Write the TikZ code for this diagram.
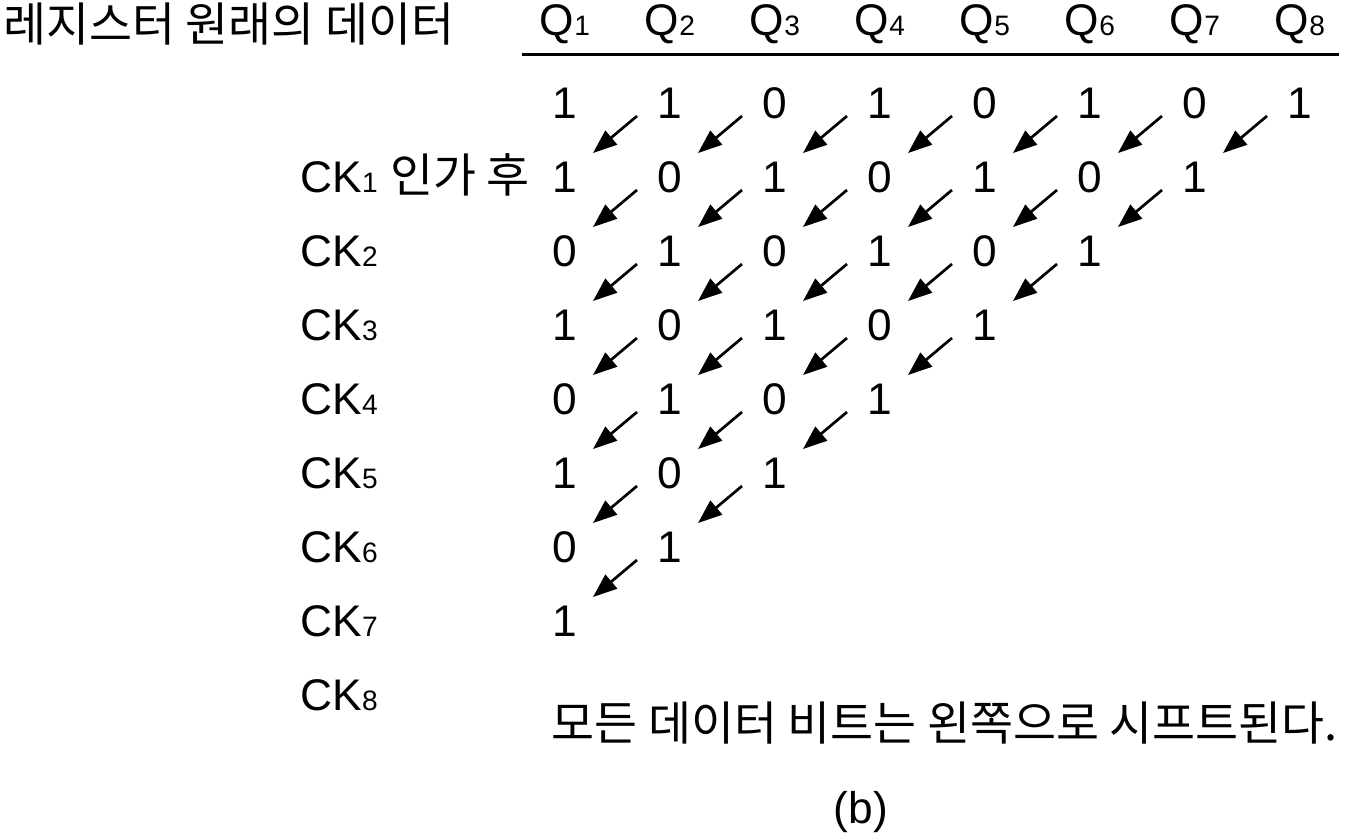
\documentclass[tikz,border=0pt]{standalone}
\usepackage{fontspec}
\setmainfont{Liberation Sans}
\newfontfamily\kr{Noto Sans CJK KR}
\usetikzlibrary{positioning,arrows.meta}
\newcommand{\idx}[1]{{\fontsize{8pt}{9pt}\selectfont #1}}

\begin{document}
\begin{tikzpicture}[x=0.1mm,y=-0.1mm,node distance=7.4mm and 10.5mm,on grid,
    font=\fontsize{12.6pt}{15pt}\selectfont]

    \tikzset{bit/.style={inner sep=0pt},
      txt/.style={inner sep=0pt},
      krtxt/.style={inner sep=0pt,font=\fontsize{13.3pt}{16pt}\selectfont\kr},
      shiftarrow/.style={line width=0.27mm,-{Triangle[length=2.4mm,width=1.8mm]},
        to path={([shift={(-33,13)}]\tikztostart.center) -- ([shift={(28,-24)}]\tikztotarget.center)}}}
    \useasboundingbox (0,0) rectangle (1352,833);

    % original register contents
    \node[bit] (r0c1) at (565,103) {1};
    \node[bit] (r0c2) [right = of r0c1] {1};
    \node[bit] (r0c3) [right = of r0c2] {0};
    \node[bit] (r0c4) [right = of r0c3] {1};
    \node[bit] (r0c5) [right = of r0c4] {0};
    \node[bit] (r0c6) [right = of r0c5] {1};
    \node[bit] (r0c7) [right = of r0c6] {0};
    \node[bit] (r0c8) [right = of r0c7] {1};
    % after CK1
    \node[bit] (r1c1) [below = of r0c1] {1};
    \node[bit] (r1c2) [below = of r0c2] {0};
    \node[bit] (r1c3) [below = of r0c3] {1};
    \node[bit] (r1c4) [below = of r0c4] {0};
    \node[bit] (r1c5) [below = of r0c5] {1};
    \node[bit] (r1c6) [below = of r0c6] {0};
    \node[bit] (r1c7) [below = of r0c7] {1};
    % CK2
    \node[bit] (r2c1) [below = of r1c1] {0};
    \node[bit] (r2c2) [below = of r1c2] {1};
    \node[bit] (r2c3) [below = of r1c3] {0};
    \node[bit] (r2c4) [below = of r1c4] {1};
    \node[bit] (r2c5) [below = of r1c5] {0};
    \node[bit] (r2c6) [below = of r1c6] {1};
    % CK3
    \node[bit] (r3c1) [below = of r2c1] {1};
    \node[bit] (r3c2) [below = of r2c2] {0};
    \node[bit] (r3c3) [below = of r2c3] {1};
    \node[bit] (r3c4) [below = of r2c4] {0};
    \node[bit] (r3c5) [below = of r2c5] {1};
    % CK4
    \node[bit] (r4c1) [below = of r3c1] {0};
    \node[bit] (r4c2) [below = of r3c2] {1};
    \node[bit] (r4c3) [below = of r3c3] {0};
    \node[bit] (r4c4) [below = of r3c4] {1};
    % CK5
    \node[bit] (r5c1) [below = of r4c1] {1};
    \node[bit] (r5c2) [below = of r4c2] {0};
    \node[bit] (r5c3) [below = of r4c3] {1};
    % CK6
    \node[bit] (r6c1) [below = of r5c1] {0};
    \node[bit] (r6c2) [below = of r5c2] {1};
    % CK7
    \node[bit] (r7c1) [below = of r6c1] {1};

    % column heads
    \node[txt] (q1) [above = 7.9mm of r0c1] {Q\idx{1}};
    \node[txt] (q2) [right = of q1] {Q\idx{2}};
    \node[txt] (q3) [right = of q2] {Q\idx{3}};
    \node[txt] (q4) [right = of q3] {Q\idx{4}};
    \node[txt] (q5) [right = of q4] {Q\idx{5}};
    \node[txt] (q6) [right = of q5] {Q\idx{6}};
    \node[txt] (q7) [right = of q6] {Q\idx{7}};
    \node[txt] (q8) [right = of q7] {Q\idx{8}};
    \node[krtxt,anchor=base east] (orig) at (455,41) {레지스터 원래의 데이터};
    \draw[line width=0.3mm] (522,54) -- (1339,54);

    % row labels
    \node[txt,anchor=base west] (ck1) at (300,0 |- r1c1.base) {CK\idx{1} {\fontsize{13.3pt}{16pt}\selectfont\kr 인가 후}};
    \node[txt,anchor=base west] (ck2) at (300,0 |- r2c1.base) {CK\idx{2}};
    \node[txt,anchor=base west] (ck3) at (300,0 |- r3c1.base) {CK\idx{3}};
    \node[txt,anchor=base west] (ck4) at (300,0 |- r4c1.base) {CK\idx{4}};
    \node[txt,anchor=base west] (ck5) at (300,0 |- r5c1.base) {CK\idx{5}};
    \node[txt,anchor=base west] (ck6) at (300,0 |- r6c1.base) {CK\idx{6}};
    \node[txt,anchor=base west] (ck7) at (300,0 |- r7c1.base) {CK\idx{7}};
    \node[txt,anchor=base west] (ck8) at ([yshift=-7.4mm]ck7.base west) {CK\idx{8}};

    \node[krtxt,anchor=base west] (note) at (551,740) {모든 데이터 비트는 왼쪽으로 시프트된다.};
    \node[txt] (cap) at (861,812) {(b)};

    \path[shiftarrow]
    (r0c2) edge (r1c1)
    (r0c3) edge (r1c2)
    (r0c4) edge (r1c3)
    (r0c5) edge (r1c4)
    (r0c6) edge (r1c5)
    (r0c7) edge (r1c6)
    (r0c8) edge (r1c7)
    (r1c2) edge (r2c1)
    (r1c3) edge (r2c2)
    (r1c4) edge (r2c3)
    (r1c5) edge (r2c4)
    (r1c6) edge (r2c5)
    (r1c7) edge (r2c6)
    (r2c2) edge (r3c1)
    (r2c3) edge (r3c2)
    (r2c4) edge (r3c3)
    (r2c5) edge (r3c4)
    (r2c6) edge (r3c5)
    (r3c2) edge (r4c1)
    (r3c3) edge (r4c2)
    (r3c4) edge (r4c3)
    (r3c5) edge (r4c4)
    (r4c2) edge (r5c1)
    (r4c3) edge (r5c2)
    (r4c4) edge (r5c3)
    (r5c2) edge (r6c1)
    (r5c3) edge (r6c2)
    (r6c2) edge (r7c1)
    ;
  \end{tikzpicture}
\end{document}
